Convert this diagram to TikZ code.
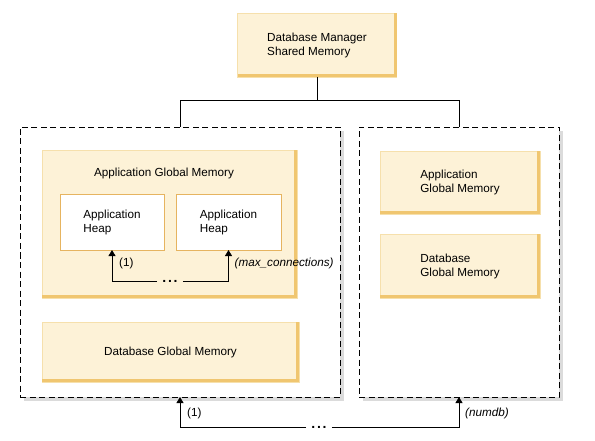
\documentclass[tikz,border=0pt]{standalone}
\usepackage{fontspec}
\setmainfont{Liberation Sans}
\usetikzlibrary{arrows.meta,shadows}

\definecolor{memfill}{RGB}{253,242,215}
\definecolor{memedge}{RGB}{246,224,172}
\definecolor{memshade}{RGB}{240,198,112}
\definecolor{heapedge}{RGB}{230,180,96}

\begin{document}
\fontsize{11.7}{14}\selectfont
\begin{tikzpicture}[x=1pt,y=-1pt,
    membox/.style={draw=memedge,fill=memfill,line width=0.5pt,outer sep=0pt,align=left},
    heapbox/.style={draw=heapedge,fill=white,line width=0.7pt,outer sep=0pt,
                    minimum width=104,minimum height=56,align=left},
    groupbox/.style={draw=black,fill=white,line width=0.9pt,dash pattern=on 6pt off 3.5pt,
                     outer sep=0pt,minimum height=270,
                     drop shadow={shadow xshift=4pt,shadow yshift=-4pt,fill=black!14,opacity=1}},
    shadeline/.style={draw=memshade,line width=3pt},
    conn/.style={line width=0.8pt},
    arr/.style={conn,-{Triangle[length=6pt,width=7pt]}},
    note/.style={font=\itshape,inner sep=0pt,anchor=west},
    dotsnode/.style={inner xsep=5pt,inner ysep=0pt,font=\bfseries\fontsize{14}{14}\selectfont}]
\useasboundingbox (0,0) rectangle (595,441);

% the two groups
\node[groupbox,minimum width=320] (grpa) at (180,262) {};
\node[groupbox,minimum width=200] (grpb) at (459,262) {};

% memory boxes
\node[membox,minimum width=159,minimum height=64] (dbm) at (317,45) {Database Manager\\Shared Memory};
\node[membox,minimum width=255,minimum height=148] (agma) at (169.5,224) {};
\node[membox,minimum width=257,minimum height=60] (dgma) at (170.5,352) {Database Global Memory};
\node[membox,minimum width=160,minimum height=63] (agmb) at (460,182.5) {Application\\Global Memory};
\node[membox,minimum width=160,minimum height=64] (dgmb) at (460,266) {Database\\Global Memory};
\foreach \b in {dbm,agma,dgma,agmb,dgmb}
    \draw[shadeline] ([yshift=1.5pt]\b.south west) -- ([xshift=-1.5pt,yshift=1.5pt]\b.south east) -- ([xshift=-1.5pt]\b.north east);

\node (agmtitle) at (164,173) {Application Global Memory};
\node[heapbox] (heapa) at (112,222) {Application\\Heap};
\node[heapbox,minimum width=105] (heapb) at (228.5,222) {Application\\Heap};

% top connector
\draw[conn] (dbm.south) -- ++(0,23) coordinate (bus);
\draw[conn] (bus) -| (grpa.north);
\draw[conn] (bus) -| (grpb.north);

% heaps
\node[dotsnode] (hdots) at (170,281) {.\hspace{1.8pt}.\hspace{1.8pt}.};
\draw[arr] (hdots.west) -| (heapa.south);
\draw[arr] (hdots.east) -| (heapb.south);
\node[note,font=\upshape] (hone) at ([shift={(7,13)}]heapa.south) {(1)};
\node[note] (hmax) at ([shift={(6,13)}]heapb.south) {(max\_connections)};

% databases
\node[dotsnode] (gdots) at (319,427) {.\hspace{1.8pt}.\hspace{1.8pt}.};
\draw[arr] (gdots.west) -| (grpa.south);
\draw[arr] (gdots.east) -| (grpb.south);
\node[note,font=\upshape] (gone) at ([shift={(7,16)}]grpa.south) {(1)};
\node[note] (gnum) at ([shift={(6,16)}]grpb.south) {(numdb)};
\end{tikzpicture}
\end{document}
